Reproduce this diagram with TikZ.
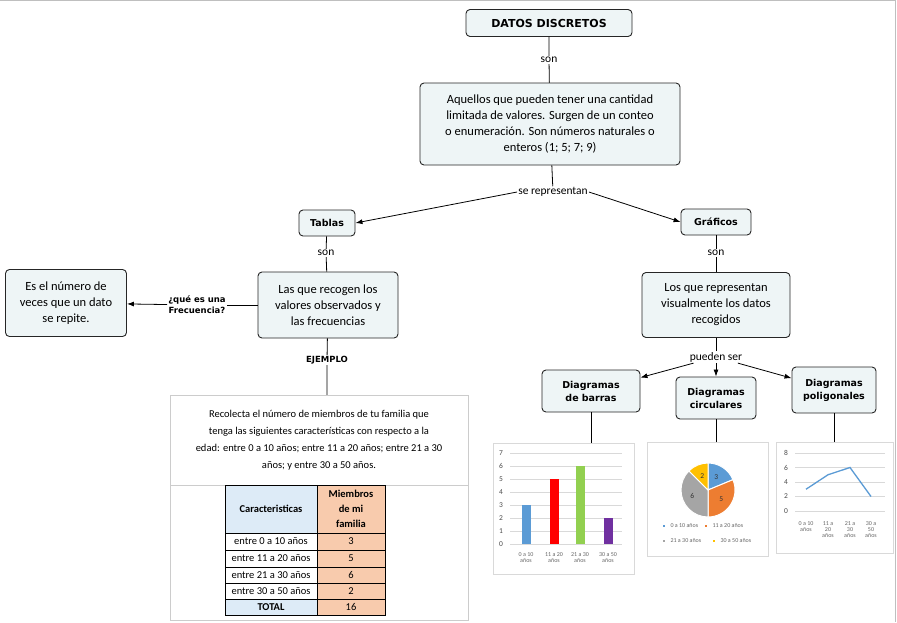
\documentclass[tikz,border=0pt]{standalone}
\usepackage{fontspec}
\setmainfont{Carlito}
\newfontfamily\vf{DejaVu Sans}
\usetikzlibrary{arrows.meta}
\definecolor{boxf}{HTML}{EEF5F6}
\definecolor{cb}{HTML}{5B9BD5}
\definecolor{co}{HTML}{ED7D31}
\definecolor{cg}{HTML}{A5A5A5}
\definecolor{cy}{HTML}{FFC000}
\definecolor{tbl}{HTML}{DDEBF7}
\definecolor{tor}{HTML}{F8CBAD}
\definecolor{cgr}{HTML}{92D050}
\definecolor{cvi}{HTML}{7030A0}
\begin{document}
\begin{tikzpicture}[x=1pt,y=-1pt,
 box/.style={draw=black!85,line width=0.9pt,fill=boxf,rounded corners=4pt,align=center,inner sep=4pt,font=\fontsize{12.5}{16}\selectfont},
 hbox/.style={box,font=\vf\bfseries\fontsize{9.5}{13}\selectfont},
 lab/.style={fill=white,inner sep=1pt,font=\fontsize{11.5}{13}\selectfont},
 con/.style={line width=0.8pt},
 arr/.style={con,-{Latex[length=7pt,width=5pt]}},
 chart/.style={draw=black!15,fill=white},
 tk/.style={font=\fontsize{6}{6}\selectfont,text=black!60,align=center},
 ax/.style={font=\fontsize{7.5}{8}\selectfont,text=black!70}]
\useasboundingbox (0,0) rectangle (897,622);
\fill[white] (0,0) rectangle (897,622);
\draw[black!25] (0,0.5) -- (895.5,0.5) -- (895.5,622);

\node[hbox,minimum width=166pt,minimum height=27pt] (dd) at (549,23) {\fontsize{11}{13}\selectfont DATOS DISCRETOS};
\node[box,minimum width=260pt,minimum height=82pt] (aq) at (550,124) {Aquellos que pueden tener una cantidad\\limitada de valores. Surgen de un conteo\\o enumeración. Son números naturales o\\enteros (1; 5; 7; 9)};
\node[lab] (son1) at (549,60) {son};
\draw[con] (dd) -- (son1) -- (aq);
\node[lab] (sr) at (553,192) {se representan};
\node[hbox,minimum width=56pt,minimum height=26pt] (tab) at (327,223) {Tablas};
\node[hbox,minimum width=70pt,minimum height=26pt] (gra) at (716,222) {Gráficos};
\draw[con] (aq) -- (sr);
\draw[arr] (sr.west) -- (tab.east);
\draw[arr] (sr.east) -- (gra.west);
\node[box,minimum width=140pt,minimum height=66pt] (lq) at (328,305) {Las que recogen los\\valores observados y\\las frecuencias};
\node[box,minimum width=148pt,minimum height=65pt] (lr) at (716,305) {Los que representan\\visualmente los datos\\recogidos};
\node[lab] (son2) at (326,253) {son};
\node[lab] (son3) at (716,253) {son};
\draw[con] (tab) -- (son2) -- (lq);
\draw[con] (gra) -- (son3) -- (lr);
\node[box,minimum width=121pt,minimum height=67pt] (es) at (66,303) {Es el número de\\veces que un dato\\se repite.};
\node[lab,font=\vf\bfseries\fontsize{8.5}{11}\selectfont,align=center] (qf) at (197,305) {¿qué es una\\Frecuencia?};
\draw[con] (lq) -- (qf);
\draw[arr] (qf) -- (es);
\node[lab,font=\vf\bfseries\fontsize{8.5}{11}\selectfont] (ej) at (327,360) {EJEMPLO};

% example box
\node[draw=black!20,fill=white,minimum width=298pt,minimum height=225pt] (ex) at (319,507.5) {};
\draw[con] (lq) -- (ej) -- (ej |- ex.north);
\draw[black!20] (170,485) -- (468,485);
\node[align=center,font=\fontsize{10.5}{17}\selectfont] (ext) at (319,440) {Recolecta el número de miembros de tu familia que\\tenga las siguientes características con respecto a la\\edad: entre 0 a 10 años; entre 11 a 20 años; entre 21 a 30\\años; y entre 30 a 50 años.};
\fill[tbl] (225,485) rectangle (317,533);
\fill[tbl] (225,599) rectangle (317,615);
\fill[tor] (317,485) rectangle (385,615);
\draw[black] (225,485) rectangle (385,615);
\draw[black] (317,485) -- (317,615);
\foreach \yy in {533,550,567,583,599} \draw[black] (225,\yy) -- (385,\yy);
\begin{scope}[every node/.style={font=\fontsize{10.5}{15}\selectfont,align=center}]
\node at (271,509) {\bfseries Caracteristicas};
\node at (351,509) {\bfseries Miembros\\\bfseries de mi\\\bfseries familia};
\foreach \t/\v/\yy in {entre 0 a 10 años/3/541.5,entre 11 a 20 años/5/558.5,entre 21 a 30 años/6/575,entre 30 a 50 años/2/591} {
 \node at (271,\yy) {\t}; \node at (351,\yy) {\v};}
\node at (271,607) {\bfseries TOTAL};
\node at (351,607) {16};
\end{scope}

% graficos branch
\node[lab] (ps) at (716,357) {pueden ser};
\draw[con] (lr) -- (ps);
\node[hbox,text width=90pt,minimum height=42pt] (db) at (591,391) {Diagramas de barras};
\node[hbox,text width=72pt,minimum height=42pt] (dc) at (716,398) {Diagramas circulares};
\node[hbox,text width=76pt,minimum height=46pt] (dp) at (834,390) {Diagramas poligonales};
\draw[arr] (ps) -- (db);
\draw[arr] (ps) -- (dc);
\draw[arr] (ps) -- (dp);

% bar chart
\node[chart,minimum width=141pt,minimum height=131pt] (cbar) at (563.5,508.5) {};
\draw[con] (db) -- (cbar.north -| db.south);
\foreach \i in {0,...,7} {\draw[black!15] (510,544-13*\i) -- (622,544-13*\i); \node[ax] at (501,544-13*\i) {\i};}
\foreach \xx/\h/\c in {526/3/cb,554/5/red,580/6/cgr,608/2/cvi} \fill[\c] (\xx-4.5,544) rectangle (\xx+4.5,544-13*\h);
\foreach \xx/\t in {526/0 a 10,554/11 a 20,580/21 a 30,608/30 a 50} \node[tk] at (\xx,558) {\t\\años};

% pie chart
\node[chart,minimum width=121pt,minimum height=114pt] (cpie) at (707.5,499) {};
\draw[con] (dc) -- (cpie.north -| dc.south);
\begin{scope}[shift={(708,490)},yscale=-1]
\fill[cb,draw=white,line width=1pt] (0,0) -- (90:27) arc[start angle=90,end angle=22.5,radius=27] -- cycle;
\fill[co,draw=white,line width=1pt] (0,0) -- (22.5:27) arc[start angle=22.5,end angle=-90,radius=27] -- cycle;
\fill[cg,draw=white,line width=1pt] (0,0) -- (-90:27) arc[start angle=-90,end angle=-225,radius=27] -- cycle;
\fill[cy,draw=white,line width=1pt] (0,0) -- (135:27) arc[start angle=135,end angle=90,radius=27] -- cycle;
\node[ax,text=black!80] at (56:15) {3}; \node[ax,text=black!80] at (-34:16) {5}; \node[ax,text=black!80] at (-158:17) {6}; \node[ax,text=black!80] at (112:15) {2};
\end{scope}
\begin{scope}[every node/.style={tk,anchor=west}]
\fill[cb] (663,525) rectangle +(2,2); \node at (667,526) {0 a 10 años};
\fill[co] (705,525) rectangle +(2,2); \node at (709,526) {11 a 20 años};
\fill[cg] (663,540) rectangle +(2,2); \node at (667,541) {21 a 30 años};
\fill[cy] (713,540) rectangle +(2,2); \node at (717,541) {30 a 50 años};
\end{scope}

% line chart
\node[chart,minimum width=117pt,minimum height=111pt] (cline) at (834.5,497.5) {};
\draw[con] (dp) -- (cline.north -| dp.south);
\foreach \i in {0,2,4,6,8} {\draw[black!15] (795,511-7.25*\i) -- (885,511-7.25*\i); \node[ax] at (786,511-7.25*\i) {\i};}
\draw[cb,line width=1.3pt] (806,489.25) -- (828,474.75) -- (850,467.5) -- (871,496.5);
\node[tk] at (806,527) {0 a 10\\años};
\foreach \xx/\a/\b in {828/11 a/20,850/21 a/30,871/30 a/50} \node[tk] at (\xx,530) {\a\\\b\\años};
\end{tikzpicture}
\end{document}
